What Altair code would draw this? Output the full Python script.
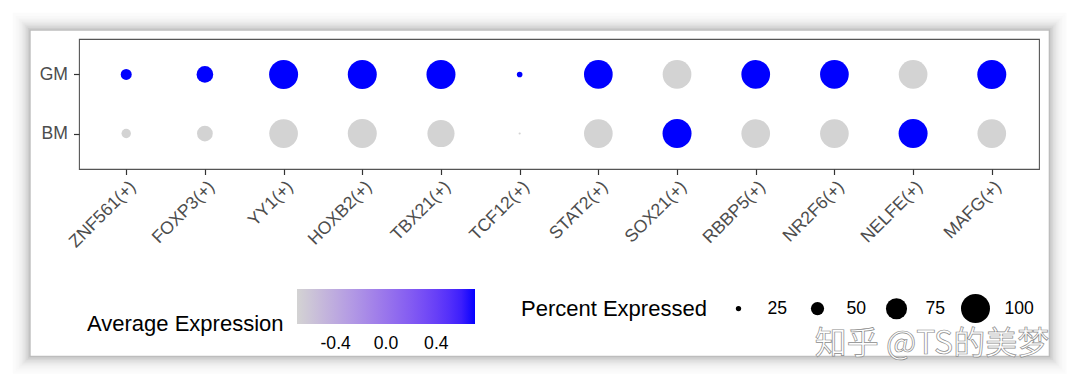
import altair as alt
import pandas as pd

features = ["ZNF561(+)", "FOXP3(+)", "YY1(+)", "HOXB2(+)", "TBX21(+)", "TCF12(+)",
            "STAT2(+)", "SOX21(+)", "RBBP5(+)", "NR2F6(+)", "NELFE(+)", "MAFG(+)"]
groups = ["GM", "BM"]

# percent of cells expressing (read from dot radii)
pct_gm = [43, 61, 100, 100, 100, 26, 99, 99, 99, 99, 99, 100]
pct_bm = [38, 58, 99, 100, 94, 15, 99, 100, 99, 99, 100, 99]
# scaled average expression (two groups -> +/-0.707)
avg_gm = [0.707, 0.707, 0.707, 0.707, 0.707, 0.707, 0.707, -0.707, 0.707, 0.707, -0.707, 0.707]
avg_bm = [-0.707, -0.707, -0.707, -0.707, -0.707, -0.707, -0.707, 0.707, -0.707, -0.707, 0.707, -0.707]

color_ticks = [-0.4, 0.0, 0.4]
size_ticks = [25, 50, 75, 100]
pct_min = 8.2
watermark = "知乎 @TS的美梦"

# decorative card frame (page screenshot shadow), relative to plot origin
card = {"x": -48.3, "x2": 969.7, "y": -8.3, "y2": 316.7}
shadow_opacity = [0.26, 0.20, 0.16, 0.125, 0.10, 0.078, 0.06, 0.047, 0.036, 0.027, 0.02, 0.014]

df = pd.DataFrame({
    "feature": features * 2,
    "group": ["GM"] * len(features) + ["BM"] * len(features),
    "pct": pct_gm + pct_bm,
    "avg": avg_gm + avg_bm,
})

FONT = "Liberation Sans"
one = pd.DataFrame({"a": [0]})

layers = []
for i, op in enumerate(shadow_opacity):
    off = 1.5 * i + 0.75
    layers.append(
        alt.Chart(one).mark_rect(filled=False, stroke="black", strokeWidth=1.5,
                                 strokeOpacity=op).encode(
            x=alt.value(card["x"] - off), x2=alt.value(card["x2"] + off),
            y=alt.value(card["y"] - off), y2=alt.value(card["y2"] + off))
    )

points = alt.Chart(df).transform_calculate(
    r=f"datum.pct - {pct_min}"
).mark_circle(opacity=1).encode(
    x=alt.X("feature:N", sort=features,
            scale=alt.Scale(type="point", padding=0.6),
            axis=alt.Axis(title=None, labelAngle=-45, labelAlign="right",
                          labelBaseline="top", labelPadding=3)),
    y=alt.Y("group:N", sort=groups,
            scale=alt.Scale(type="point", padding=0.6),
            axis=alt.Axis(title=None, labelPadding=6)),
    color=alt.Color("avg:Q",
                    scale=alt.Scale(domain=[-0.7071, 0.7071], range=["lightgrey", "blue"],
                                    interpolate="lab"),
                    legend=alt.Legend(title="Average Expression", orient="none",
                                      legendX=8, legendY=250, direction="horizontal",
                                      titleOrient="left", titleAnchor="end",
                                      titleBaseline="middle", titleLimit=400,
                                      gradientLength=178, gradientThickness=35,
                                      gradientStrokeWidth=0,
                                      values=color_ticks,
                                      labelExpr="datum.value < 0 ? '-' + format(-datum.value, '.1f') : format(datum.value, '.1f')",
                                      labelOffset=11, titlePadding=13)),
    size=alt.Size("r:Q",
                  scale=alt.Scale(type="pow", exponent=2, domain=[0, 100 - pct_min],
                                  range=[0, 841]),
                  legend=alt.Legend(title="Percent Expressed", orient="none",
                                    legendX=442, legendY=255, direction="horizontal",
                                    columns=4,
                                    titleOrient="left", titleAnchor="middle",
                                    titleBaseline="middle", titleLimit=400,
                                    values=[v - pct_min for v in size_ticks],
                                    labelExpr=f"format(datum.value + {pct_min}, '.0f')",
                                    symbolType="circle", symbolFillColor="black",
                                    symbolStrokeWidth=0, symbolOpacity=1,
                                    labelOffset=14.5, columnPadding=15,
                                    titlePadding=17)),
)
layers.append(points)

layers.append(
    alt.Chart(pd.DataFrame({"t": [watermark]})).mark_text(
        font="Noto Sans CJK SC", fontSize=32, fill="white", stroke="#8a8a8a",
        strokeWidth=0.7, align="center", baseline="middle"
    ).encode(text="t:N", x=alt.value(853), y=alt.value(305))
)

chart = alt.layer(*layers).properties(
    width=960, height=130, autosize="none",
    padding={"left": 71, "top": 31, "right": 33, "bottom": 205},
    background="white",
).configure_view(
    stroke="#555555", strokeWidth=1.1
).configure_axis(
    labelFont=FONT, labelFontSize=17.6, labelColor="#4D4D4D",
    tickColor="#333333", tickSize=5.5, tickWidth=1.2, domain=False, grid=False
).configure_legend(
    padding=0, titleFont=FONT, labelFont=FONT, titleFontSize=22, labelFontSize=17.6,
    titleFontWeight="normal", titleColor="black", labelColor="black"
)

chart.save("out.html", embed_options={"renderer": "svg", "actions": False})
